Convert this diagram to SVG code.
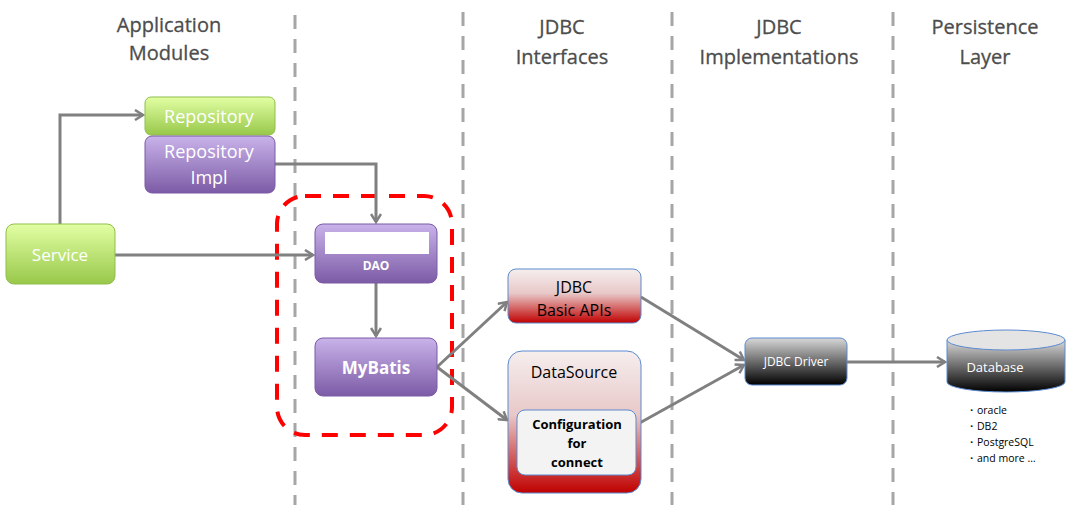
<svg xmlns="http://www.w3.org/2000/svg" width="1089" height="511" viewBox="0 0 1089 511">
<defs>
<linearGradient id="gG" x1="0" y1="0" x2="0" y2="1"><stop offset="0" stop-color="#e2ffa4"/><stop offset="1" stop-color="#98c84a"/></linearGradient>
<linearGradient id="gP" x1="0" y1="0" x2="0" y2="1"><stop offset="0" stop-color="#c9b3ea"/><stop offset="1" stop-color="#7c5ba6"/></linearGradient>
<linearGradient id="gR" x1="0" y1="0" x2="0" y2="1"><stop offset="0" stop-color="#f6eeee"/><stop offset="0.45" stop-color="#e8c8c8"/><stop offset="1" stop-color="#c00000"/></linearGradient>
<linearGradient id="gK" x1="0" y1="0" x2="0" y2="1"><stop offset="0" stop-color="#d8d8d8"/><stop offset="1" stop-color="#000"/></linearGradient>
<marker id="arr" viewBox="0 0 12 12" refX="10" refY="6" markerWidth="12" markerHeight="12" markerUnits="userSpaceOnUse" orient="auto"><polyline points="2,1 10,6 2,11" fill="none" stroke="#808080" stroke-width="2.5"/></marker>
</defs>
<style>
.sep{stroke:#a6a6a6;stroke-width:3;stroke-dasharray:14 10;fill:none}
.hd{font-family:"Open Sans","Liberation Sans",sans-serif;font-size:20px;fill:#4d4d4d;text-anchor:middle;stroke:#4d4d4d;stroke-width:0.3}
.t{font-family:"Open Sans","Liberation Sans",sans-serif;text-anchor:middle}
.w{fill:#fff}
.c{stroke:#808080;stroke-width:3;fill:none;marker-end:url(#arr)}
</style>
<rect width="1089" height="511" fill="#fff"/>
<g id="separators">
<line class="sep" x1="295" y1="15" x2="295" y2="505"/>
<line class="sep" x1="463" y1="12" x2="463" y2="505"/>
<line class="sep" x1="672" y1="12" x2="672" y2="505"/>
<line class="sep" x1="893" y1="12" x2="893" y2="505"/>
</g>
<g id="headers">
<text class="hd" x="169" y="32">Application</text><text class="hd" x="169" y="60">Modules</text>
<text class="hd" x="562" y="34">JDBC</text><text class="hd" x="562" y="64">Interfaces</text>
<text class="hd" x="779" y="34">JDBC</text><text class="hd" x="779" y="64">Implementations</text>
<text class="hd" x="985" y="34">Persistence</text><text class="hd" x="985" y="64">Layer</text>
</g>
<g id="group-box"><rect x="277" y="196" width="175" height="239" rx="28" fill="none" stroke="#ff0000" stroke-width="4" stroke-dasharray="16 12"/></g>
<g id="connectors">
<polyline class="c" points="60,224 60,115 143,115"/>
<polyline class="c" points="275,164 376,164 376,222"/>
<line class="c" x1="115" y1="255" x2="313" y2="255"/>
<line class="c" x1="376" y1="283" x2="376" y2="336"/>
<polyline class="c" points="437,367 507,302"/>
<polyline class="c" points="437,367 507,420"/>
<line class="c" x1="641" y1="297" x2="744" y2="360"/>
<line class="c" x1="636" y1="425" x2="744" y2="365"/>
<line class="c" x1="847" y1="362" x2="945" y2="362"/>
</g>
<g id="repository"><rect x="145" y="97" width="130" height="38" rx="6" fill="url(#gG)" stroke="#8fbf4a"/><text class="t w" x="209" y="123" font-size="18">Repository</text></g>
<g id="repository-impl"><rect x="145" y="136" width="130" height="57" rx="7" fill="url(#gP)" stroke="#7a5aa6"/><text class="t w" x="209" y="158" font-size="18">Repository</text><text class="t w" x="209" y="184" font-size="18">Impl</text></g>
<g id="service"><rect x="6" y="224" width="109" height="60" rx="8" fill="url(#gG)" stroke="#8fbf4a"/><text class="t w" x="60" y="261" font-size="17">Service</text></g>
<g id="dao"><rect x="315" y="224" width="122" height="59" rx="8" fill="url(#gP)" stroke="#7a5aa6"/><rect x="325" y="232" width="104" height="22" fill="#fff"/><text class="t w" x="376" y="270" font-size="12" font-weight="bold">DAO</text></g>
<g id="mybatis"><rect x="315" y="338" width="122" height="58" rx="8" fill="url(#gP)" stroke="#7a5aa6"/><text class="t w" x="376" y="374" font-size="17" font-weight="bold">MyBatis</text></g>
<g id="jdbc-basic-apis"><rect x="508" y="269" width="133" height="54" rx="8" fill="url(#gR)" stroke="#5b8bd0"/><text class="t" x="574" y="293" font-size="16">JDBC</text><text class="t" x="574" y="316" font-size="16">Basic APIs</text></g>
<g id="datasource"><rect x="508" y="351" width="133" height="142" rx="14" fill="url(#gR)" stroke="#5b8bd0"/><text class="t" x="574" y="378" font-size="16">DataSource</text>
<rect x="517" y="410" width="119" height="65" rx="8" fill="#f3f3f3" stroke="#5b8bd0"/><text class="t" x="577" y="429" font-size="13" font-weight="bold">Configuration</text><text class="t" x="577" y="448" font-size="13" font-weight="bold">for</text><text class="t" x="577" y="467" font-size="13" font-weight="bold">connect</text></g>
<g id="jdbc-driver"><rect x="745" y="338" width="102" height="47" rx="7" fill="url(#gK)" stroke="#5b8bd0"/><text class="t w" x="796" y="366" font-size="12">JDBC Driver</text></g>
<g id="database"><path d="M947,340 L947,382 A59,10 0 0 0 1065,382 L1065,340" fill="url(#gK)" stroke="#5b8bd0"/><ellipse cx="1006" cy="340" rx="59" ry="10" fill="#e4e4e4" stroke="#5b8bd0"/><text class="t w" x="995" y="372" font-size="13">Database</text>
<g font-family="Open Sans, Liberation Sans, sans-serif" font-size="10.5" fill="#000"><text x="966" y="414">・oracle</text><text x="966" y="430">・DB2</text><text x="966" y="446">・PostgreSQL</text><text x="966" y="462">・and more …</text></g></g>
</svg>
